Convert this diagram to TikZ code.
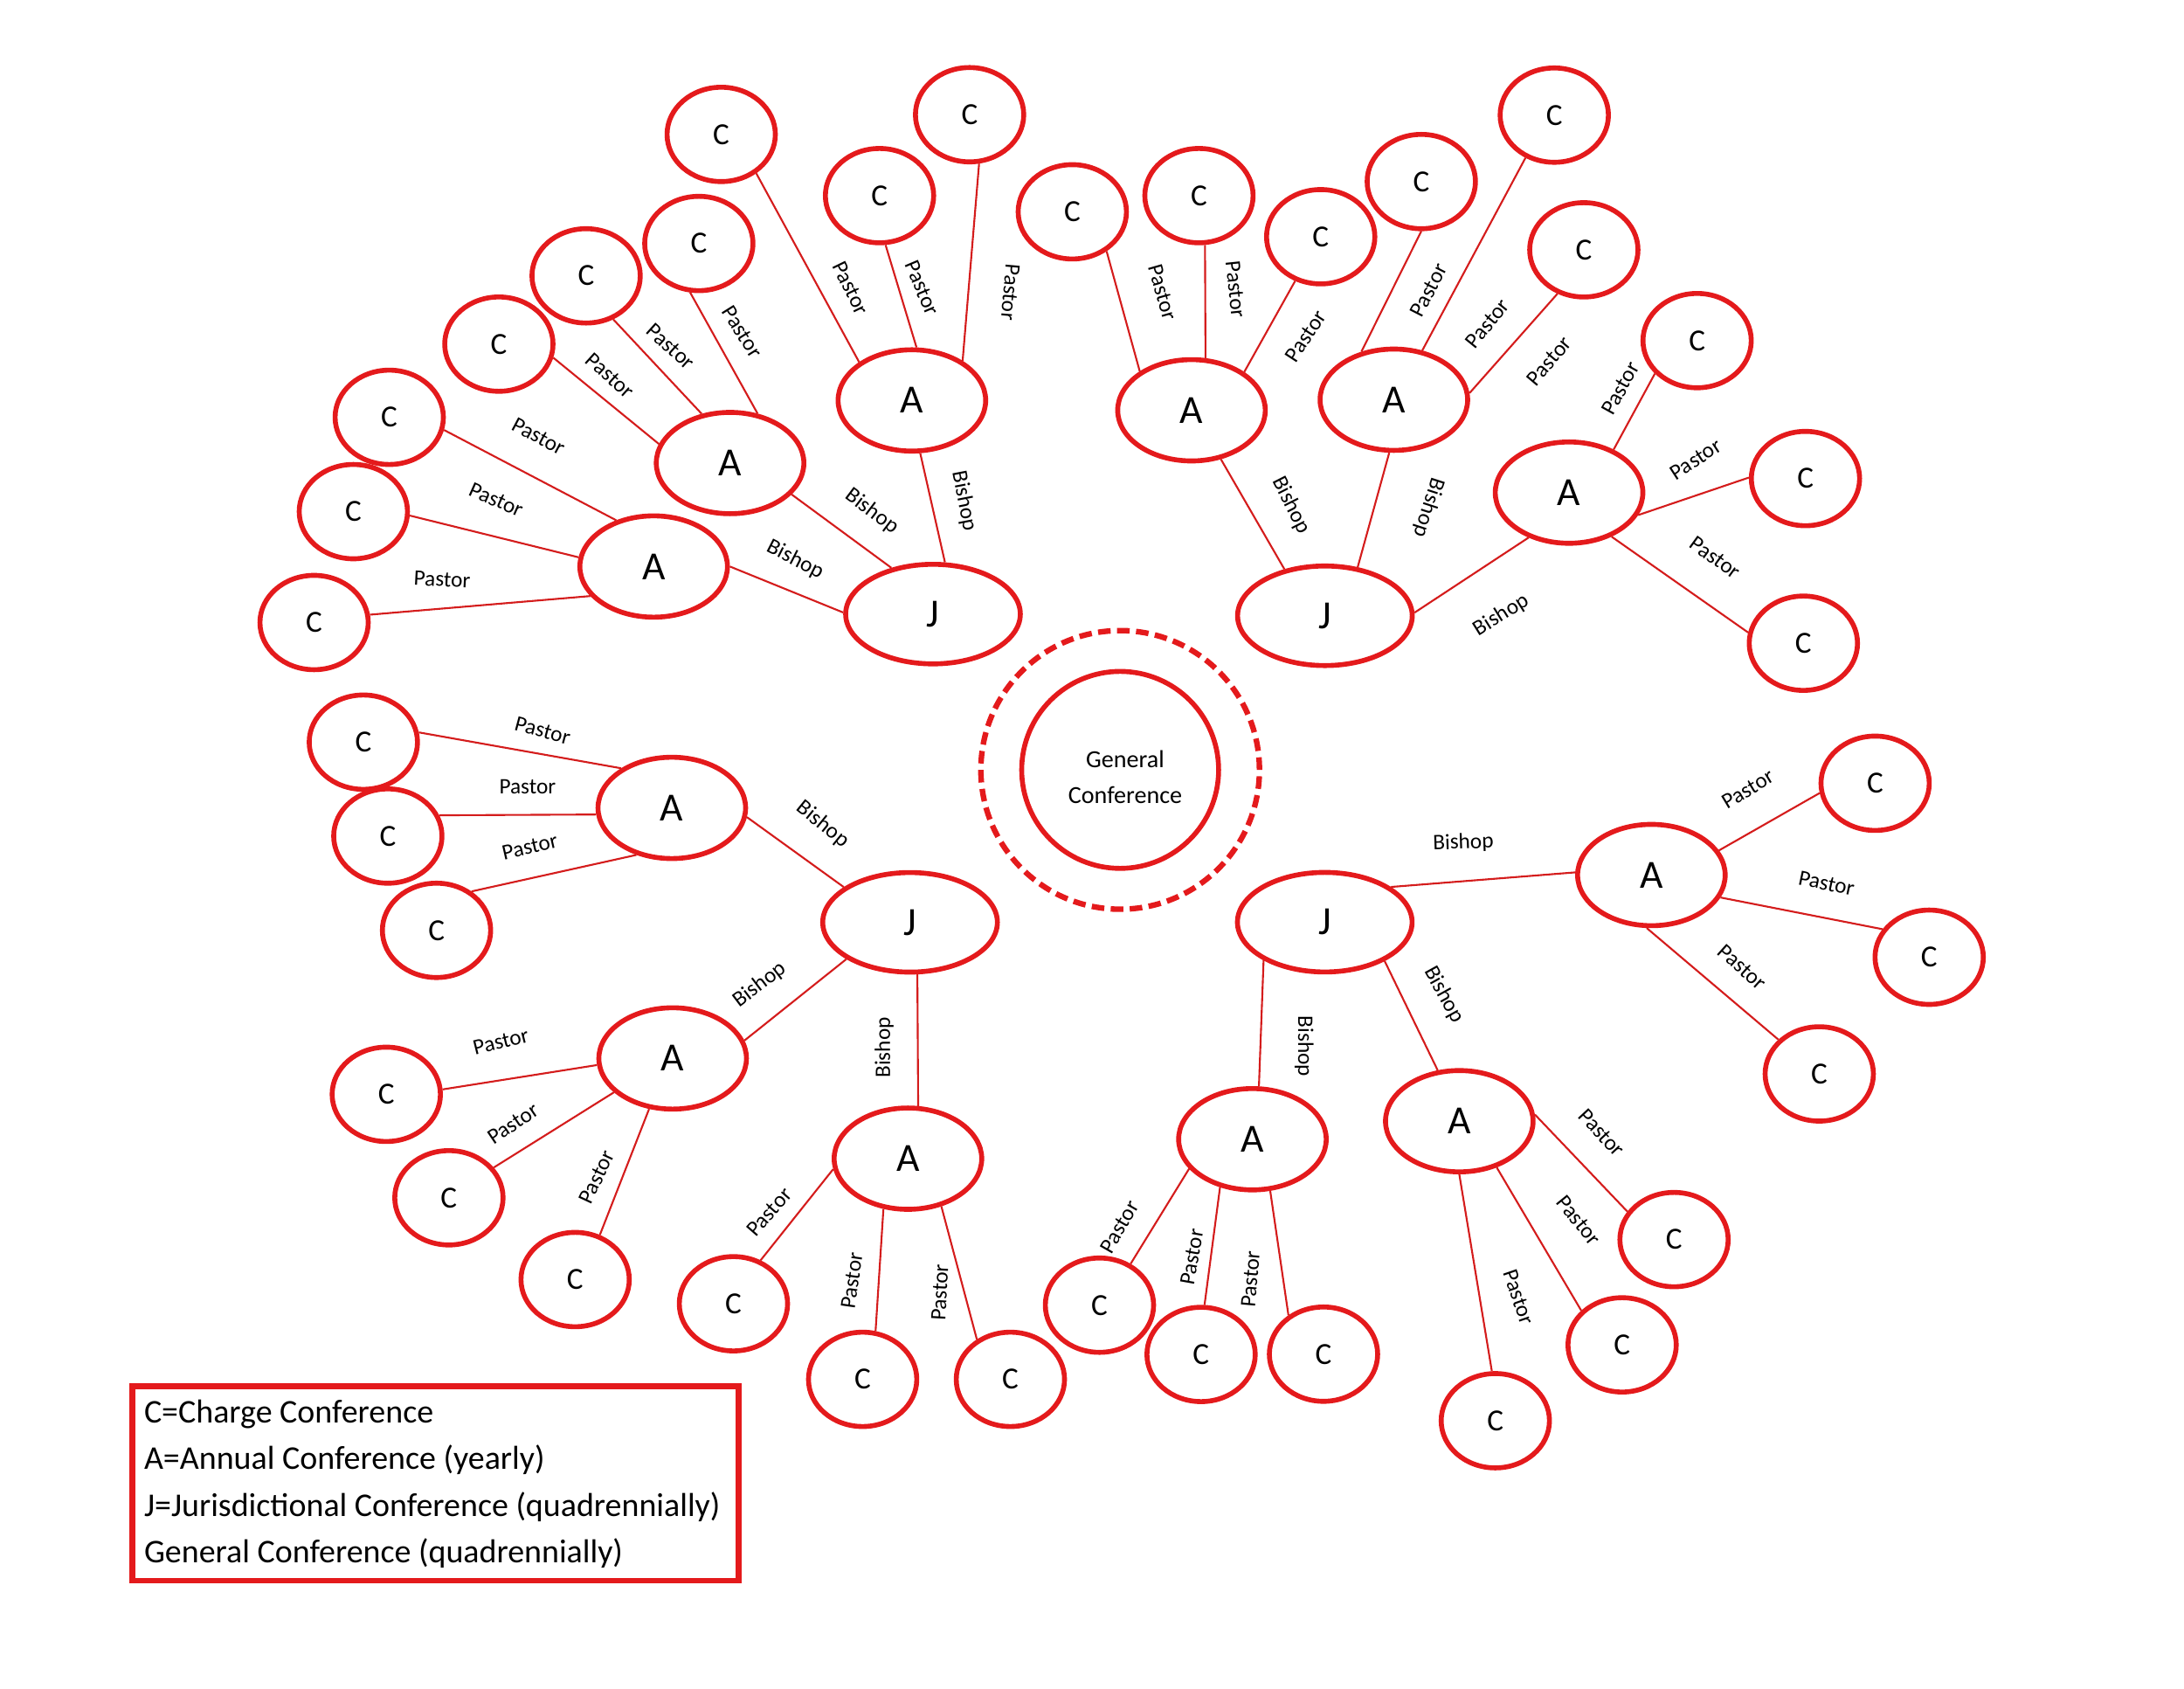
\documentclass[tikz,border=0pt]{standalone}
\usepackage{fontspec}
\setmainfont{Carlito}
\usetikzlibrary{shapes.geometric}
\definecolor{gred}{RGB}{228,26,28}
\definecolor{lred}{RGB}{212,28,28}
\tikzset{
  cnode/.style={ellipse, draw=gred, line width=1.6pt, minimum width=1.24cm, minimum height=1.08cm, inner sep=0pt, font=\fontsize{10}{12}\selectfont},
  anode/.style={ellipse, draw=gred, line width=1.6pt, minimum width=1.69cm, minimum height=1.16cm, inner sep=0pt, font=\fontsize{13}{15}\selectfont},
  jnode/.style={ellipse, draw=gred, line width=1.6pt, minimum width=2.0cm, minimum height=1.14cm, inner sep=0pt, font=\fontsize{13}{15}\selectfont},
  link/.style={draw=lred, line width=0.6pt},
  lbl/.style={font=\fontsize{7.2}{8.6}\selectfont, inner sep=0pt},
  gcin/.style={circle, draw=gred, line width=1.6pt, minimum size=2.255cm, inner sep=0pt},
  gcout/.style={circle, draw=gred, line width=1.8pt, minimum size=3.19cm, inner sep=0pt, dash pattern=on 4.1pt off 2.1pt},
  gctext/.style={align=center, font=\fontsize{8}{11.5}\selectfont, inner sep=0pt},
  legbox/.style={rectangle, draw=gred, line width=1.8pt, minimum width=6.94cm, minimum height=2.224cm, inner sep=0pt},
  legtxt/.style={font=\fontsize{10.8}{13}\selectfont, inner sep=0pt, anchor=base west}
}
\begin{document}
\begin{tikzpicture}[x=0.01611cm, y=-0.01611cm]
\useasboundingbox (0,0) rectangle (1552,1200);

% ---------- upper-left cluster ----------
\node[jnode] (J1) at (663,436.3) {J};
\node[anode] (Aa) at (648,284.5) {A};
\node[anode] (Ab) at (518.8,329) {A};
\node[anode] (Ac) at (464.5,402.5) {A};
\node[cnode] (Ca1) at (512.5,95.5) {C};
\node[cnode] (Ca2) at (625,139) {C};
\node[cnode] (Ca3) at (689,81.5) {C};
\node[cnode] (Cb1) at (416.5,196) {C};
\node[cnode] (Cb2) at (496.6,173) {C};
\node[cnode] (Cb3) at (354.5,244.5) {C};
\node[cnode] (Cc1) at (276.6,296.5) {C};
\node[cnode] (Cc2) at (251.1,363.5) {C};
\node[cnode] (Cc3) at (223.2,442.3) {C};

\draw[link] (Aa.-81) -- (J1.77);
\draw[link] (Ab.-27) -- (J1.132);
\draw[link] (Ac.0) -- (J1.179);
\draw[link] (Ca1.-48) -- (Aa.144);
\draw[link] (Ca2.-83) -- (Aa.85);
\draw[link] (Ca3.-79) -- (Aa.38);
\draw[link] (Cb1.-58) -- (Ab.120);
\draw[link] (Cb2.-100) -- (Ab.61);
\draw[link] (Cb3.-14) -- (Ab.165);
\draw[link] (Cc1.-13) -- (Ac.129);
\draw[link] (Cc2.-4) -- (Ac.173);
\draw[link] (Cc3.8) -- (Ac.-155);

\node[lbl, rotate=-79] (bAaJ1) at (685,356) {Bishop};
\node[lbl, rotate=-37] (bAbJ1) at (619.6,363.4) {Bishop};
\node[lbl, rotate=-27] (bAcJ1) at (565,397.6) {Bishop};
\node[lbl, rotate=-64] (pCa1) at (604.5,204.6) {Pastor};
\node[lbl, rotate=-67] (pCa2) at (655.3,204.6) {Pastor};
\node[lbl, rotate=-95] (pCa3) at (718,207.6) {Pastor};
\node[lbl, rotate=-42] (pCb1) at (476.7,246.2) {Pastor};
\node[lbl, rotate=-58] (pCb2) at (527.4,235.8) {Pastor};
\node[lbl, rotate=-42] (pCb3) at (433.4,267) {Pastor};
\node[lbl, rotate=-28] (pCc1) at (382.7,310) {Pastor};
\node[lbl, rotate=-24] (pCc2) at (352.6,355) {Pastor};
\node[lbl, rotate=-3] (pCc3) at (314.2,411.8) {Pastor};

% ---------- upper-right cluster ----------
\node[jnode] (J2) at (941.5,437.5) {J};
\node[anode] (Ad) at (846.7,291.5) {A};
\node[anode] (Ae) at (990.5,284) {A};
\node[anode] (Af) at (1115,350) {A};
\node[cnode] (Cd1) at (762,150.5) {C};
\node[cnode] (Cd2) at (852,139) {C};
\node[cnode] (Cd3) at (938.5,168.2) {C};
\node[cnode] (Ce1) at (1010,129) {C};
\node[cnode] (Ce2) at (1104.5,81.8) {C};
\node[cnode] (Ce3) at (1125.5,177.5) {C};
\node[cnode] (Cf1) at (1206,242) {C};
\node[cnode] (Cf2) at (1283,340) {C};
\node[cnode] (Cf3) at (1281.5,457) {C};

\draw[link] (Ad.-59) -- (J2.131);
\draw[link] (Ae.-95) -- (J2.56);
\draw[link] (Af.-132) -- (J2.2);
\draw[link] (Cd1.-49) -- (Ad.143);
\draw[link] (Cd2.-83) -- (Ad.75);
\draw[link] (Cd3.-120) -- (Ad.36);
\draw[link] (Ce1.-90) -- (Ae.124);
\draw[link] (Ce2.-124) -- (Ae.60);
\draw[link] (Ce3.-121) -- (Ae.5);
\draw[link] (Cf1.-142) -- (Af.44);
\draw[link] (Cf2.179) -- (Af.-18);
\draw[link] (Cf3.169) -- (Af.-46);

\node[lbl, rotate=-63] (bAdJ2) at (917.5,359.1) {Bishop};
\node[lbl, rotate=-108] (bAeJ2) at (1015.2,360.6) {Bishop};
\node[lbl, rotate=32] (bAfJ2) at (1067,437.2) {Bishop};
\node[lbl, rotate=-74] (pCd1) at (826,207.7) {Pastor};
\node[lbl, rotate=-84] (pCd2) at (878,205.6) {Pastor};
\node[lbl, rotate=57] (pCd3) at (928,238.8) {Pastor};
\node[lbl, rotate=63] (pCe1) at (1015.2,206.2) {Pastor};
\node[lbl, rotate=51] (pCe2) at (1057,229.9) {Pastor};
\node[lbl, rotate=50] (pCe3) at (1101,256.6) {Pastor};
\node[lbl, rotate=61] (pCf1) at (1151.5,275.9) {Pastor};
\node[lbl, rotate=33] (pCf2) at (1205,326.4) {Pastor};
\node[lbl, rotate=-36] (pCf3) at (1219,396.2) {Pastor};

% ---------- lower-left cluster ----------
\node[jnode] (J3) at (646.7,655.3) {J};
\node[anode] (Ag) at (477.4,574) {A};
\node[anode] (Ah) at (478,752) {A};
\node[anode] (Ai) at (645.2,823.2) {A};
\node[cnode] (Cg1) at (258.2,527.3) {C};
\node[cnode] (Cg2) at (275.6,594) {C};
\node[cnode] (Cg3) at (310.2,661) {C};
\node[cnode] (Ch1) at (274.5,777.5) {C};
\node[cnode] (Ch2) at (319,851) {C};
\node[cnode] (Ch3) at (408.7,909.1) {C};
\node[cnode] (Ci1) at (521.2,926.3) {C};
\node[cnode] (Ci2) at (613,980) {C};
\node[cnode] (Ci3) at (718,980) {C};

\draw[link] (Ag.-7) -- (J3.152);
\draw[link] (Ah.14) -- (J3.-150);
\draw[link] (Ai.79) -- (J3.-82);
\draw[link] (Cg1.10) -- (Ag.142);
\draw[link] (Cg2.22) -- (Ag.-175);
\draw[link] (Cg3.48) -- (Ag.-127);
\draw[link] (Ch1.5) -- (Ah.-175);
\draw[link] (Ch2.34) -- (Ah.-150);
\draw[link] (Ch3.61) -- (Ah.-115);
\draw[link] (Ci1.58) -- (Ai.-172);
\draw[link] (Ci2.75) -- (Ai.-116);
\draw[link] (Ci3.130) -- (Ai.-55);

\node[lbl, rotate=-39] (bAgJ3) at (584.7,585.7) {Bishop};
\node[lbl, rotate=37] (bAhJ3) at (540,699.8) {Bishop};
\node[lbl, rotate=90] (bAiJ3) at (628.3,744.3) {Bishop};
\node[lbl, rotate=-15] (pCg1) at (385.6,519.1) {Pastor};
\node[lbl] (pCg2) at (374.9,559) {Pastor};
\node[lbl, rotate=13] (pCg3) at (376.5,601.8) {Pastor};
\node[lbl, rotate=14] (pCh1) at (355.9,740) {Pastor};
\node[lbl, rotate=34] (pCh2) at (364.6,798.5) {Pastor};
\node[lbl, rotate=65] (pCh3) at (424,836.2) {Pastor};
\node[lbl, rotate=49] (pCi1) at (546.7,861.2) {Pastor};
\node[lbl, rotate=82] (pCi2) at (605.3,910) {Pastor};
\node[lbl, rotate=87] (pCi3) at (667.9,918.2) {Pastor};

% ---------- lower-right cluster ----------
\node[jnode] (J4) at (941.4,655.2) {J};
\node[anode] (Aj) at (1173.5,621.7) {A};
\node[anode] (Ak) at (890,809.4) {A};
\node[anode] (Al) at (1037,796.6) {A};
\node[cnode] (Cj1) at (1332.5,556.5) {C};
\node[cnode] (Cj2) at (1370.9,680.1) {C};
\node[cnode] (Cj3) at (1292.8,763) {C};
\node[cnode] (Ck1) at (781.3,927.3) {C};
\node[cnode] (Ck2) at (853.5,962.3) {C};
\node[cnode] (Ck3) at (940.5,962.1) {C};
\node[cnode] (Cl1) at (1189.6,880.7) {C};
\node[cnode] (Cl2) at (1152.7,955.5) {C};
\node[cnode] (Cl3) at (1062.6,1009.4) {C};

\draw[link] (J4.28) -- (Aj.178);
\draw[link] (J4.-148) -- (Ak.83);
\draw[link] (J4.-33) -- (Al.113);
\draw[link] (Cj1.-170) -- (Aj.20);
\draw[link] (Cj2.149) -- (Aj.-18);
\draw[link] (Cj3.140) -- (Aj.-95);
\draw[link] (Ck1.53) -- (Ak.-155);
\draw[link] (Ck2.86) -- (Ak.-124);
\draw[link] (Ck3.132) -- (Ak.-71);
\draw[link] (Cl1.149) -- (Al.5);
\draw[link] (Cl2.140) -- (Al.-51);
\draw[link] (Cl3.94) -- (Al.-90);

\node[lbl, rotate=2] (bJ4Aj) at (1039.8,598.8) {Bishop};
\node[lbl, rotate=-90] (bJ4Ak) at (926.7,743.4) {Bishop};
\node[lbl, rotate=-61] (bJ4Al) at (1026,706.7) {Bishop};
\node[lbl, rotate=31] (pCj1) at (1242,560.7) {Pastor};
\node[lbl, rotate=-12] (pCj2) at (1298,627.6) {Pastor};
\node[lbl, rotate=-42] (pCj3) at (1238,687.2) {Pastor};
\node[lbl, rotate=60] (pCk1) at (795.5,871.7) {Pastor};
\node[lbl, rotate=80] (pCk2) at (846.9,893.1) {Pastor};
\node[lbl, rotate=85] (pCk3) at (888.6,908.8) {Pastor};
\node[lbl, rotate=-47] (pCl1) at (1138.2,804.7) {Pastor};
\node[lbl, rotate=-51] (pCl2) at (1121.8,867.1) {Pastor};
\node[lbl, rotate=-71] (pCl3) at (1079.2,921.6) {Pastor};

% ---------- General Conference ----------
\node[gcout] (gcdash) at (796,547) {};
\node[gcin] (gc) at (796,547) {};
\node[gctext] (gclabel) at (799.6,552) {General\\Conference};

% ---------- legend ----------
\node[legbox] (legend) at (309.5,1054) {};
\node[legtxt] (leg1) at (102,1011) {C=Charge Conference};
\node[legtxt] (leg2) at (102,1044) {A=Annual Conference (yearly)};
\node[legtxt] (leg3) at (102,1077.5) {J=Jurisdictional Conference (quadrennially)};
\node[legtxt] (leg4) at (102,1110.5) {General Conference (quadrennially)};
\end{tikzpicture}
\end{document}
